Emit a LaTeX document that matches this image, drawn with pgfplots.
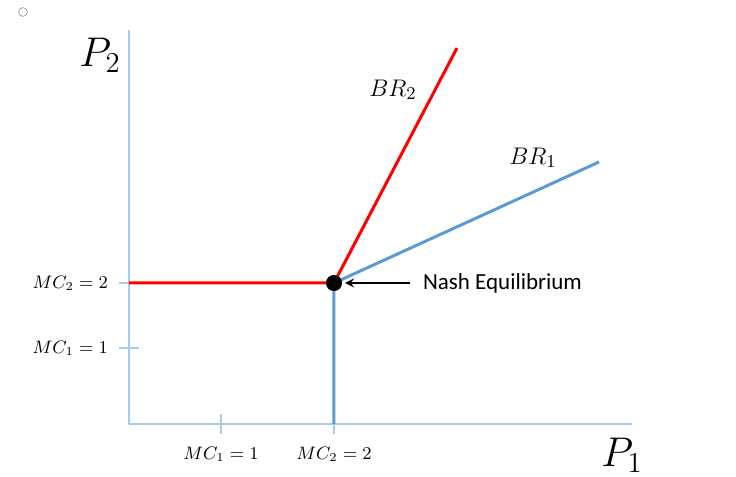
\documentclass[border=0pt]{standalone}
\usepackage{pgfplots}
\pgfplotsset{compat=1.18}
\usepackage{fontspec}
\newfontfamily\calibri{Carlito}
\definecolor{brblue}{HTML}{5B9BD5}
\definecolor{axblue}{HTML}{A9CBEA}
\begin{document}
\begin{tikzpicture}
% page frame: 1 px of the reference = 0.5pt
\path[use as bounding box] (-64.5pt,-26.5pt) rectangle (303.5pt,212pt);
\begin{axis}[
    at={(0pt,0pt)}, anchor=south west,
    scale only axis,
    width=251.5pt, height=197pt,
    xmin=0, xmax=503, ymin=0, ymax=394,
    axis lines=left,
    axis line style={axblue, line width=0.6pt, -},
    clip=false,
    xtick={92,205},
    xticklabels={$MC_1=1$, $MC_2=2$},
    ytick={76,141},
    yticklabels={$MC_1=1$, $MC_2=2$},
    tick align=center,
    major tick length=10pt,
    tick style={axblue, line width=0.6pt},
    tick label style={font=\small},
    xticklabel style={yshift=-3pt},
    yticklabel style={xshift=-2pt},
]
% best response of firm 2
\addplot[red, line width=1.5pt] coordinates {(0,141) (205,141) (328,376)};
% best response of firm 1
\addplot[brblue, line width=1.5pt] coordinates {(205,0) (205,141) (470,262)};
% equilibrium
\addplot[only marks, mark=*, mark size=3.8pt, black] coordinates {(205,141)};

\draw[-stealth, line width=1pt] (axis cs:281,141) -- (axis cs:216,141);
\node[anchor=west, font=\calibri\fontsize{11.5}{13}\selectfont] at (axis cs:287,141) {Nash Equilibrium};
\node[font=\fontsize{13}{15}\selectfont] at (axis cs:264,334) {$BR_2$};
\node[font=\fontsize{13}{15}\selectfont] at (axis cs:404,266) {$BR_1$};
\node[font=\fontsize{20}{24}\selectfont] at (axis cs:-29,369) {$P_2$};
\node[font=\fontsize{20}{24}\selectfont] at (axis cs:493,-31) {$P_1$};
\draw[gray!70, line width=0.4pt] (axis cs:-106,412) circle (2.2pt);
\end{axis}
\end{tikzpicture}
\end{document}
